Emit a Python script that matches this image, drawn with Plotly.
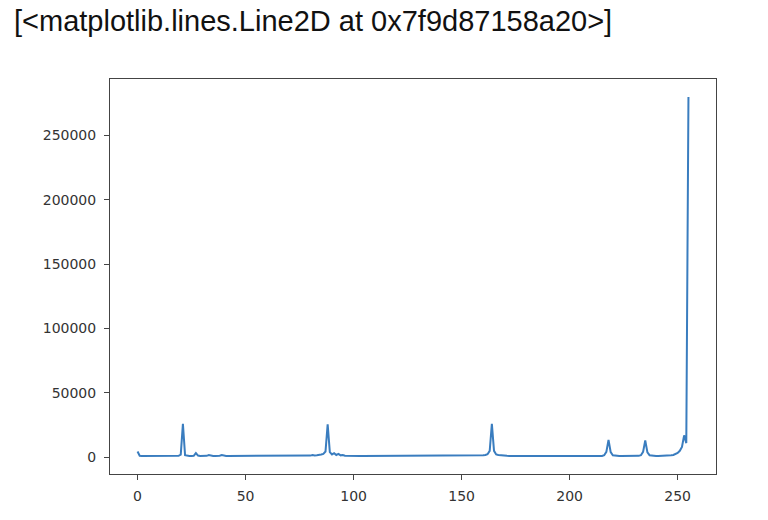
import plotly.graph_objects as go

# pixel-intensity bins 0..255
bins = list(range(256))

# histogram counts, 16 bins per row
counts = [
    # 0-15
    4500, 1200, 1000, 1000, 950, 1000, 1000, 950, 1000, 1000, 1000, 950, 1000, 1000, 1000, 1000,
    # 16-31
    1000, 1000, 1000, 1100, 2000, 26000, 1600, 1000, 1000, 1000, 1100, 3300, 1300, 1000, 1000, 1000,
    # 32-47
    1100, 1700, 1100, 1000, 1000, 1000, 1200, 1700, 1100, 1000, 1000, 1000, 1100, 1500, 1100, 1000,
    # 48-63
    1000, 1100, 1400, 1000, 1000, 1000, 1000, 1100, 1300, 1000, 1000, 1000, 1000, 1000, 1100, 1000,
    # 64-79
    1000, 1000, 1000, 1000, 1000, 1000, 1000, 1000, 1000, 1000, 1000, 1100, 1100, 1200, 1200, 1300,
    # 80-95
    1300, 1800, 1400, 1600, 1700, 2200, 2600, 4500, 25500, 4000, 2200, 3200, 1800, 2600, 1500, 1800,
    # 96-111
    1200, 1100, 1400, 1100, 1000, 1000, 1000, 1000, 1000, 1000, 1000, 1000, 1000, 1000, 1000, 1000,
    # 112-127
    1000, 1000, 1000, 1000, 1000, 1000, 1000, 1000, 1000, 1000, 1000, 1000, 1000, 1000, 1000, 1000,
    # 128-143
    1000, 1000, 1000, 1000, 1000, 1000, 1000, 1000, 1000, 1000, 1000, 1000, 1000, 1000, 1000, 1000,
    # 144-159
    1000, 1000, 1000, 1000, 1000, 1000, 1000, 1000, 1000, 1000, 1000, 1100, 1100, 1200, 1300, 1400,
    # 160-175
    1500, 1800, 2400, 5000, 26000, 5000, 2200, 1800, 1500, 1300, 1200, 1100, 1000, 1000, 1000, 1000,
    # 176-191
    1000, 1000, 1000, 1000, 1000, 1000, 1000, 1100, 1500, 1100, 1000, 1000, 1000, 1000, 1000, 1000,
    # 192-207
    1000, 1000, 1000, 1000, 1400, 1100, 1000, 1000, 1000, 1000, 1000, 1000, 1000, 1000, 1000, 1000,
    # 208-223
    1000, 1000, 1000, 1000, 1000, 1000, 1000, 1000, 1600, 4200, 13500, 4000, 1600, 1200, 1100, 1000,
    # 224-239
    1000, 1000, 1000, 1000, 1000, 1000, 1000, 1000, 1100, 1600, 4200, 13000, 3800, 1600, 1200, 1100,
    # 240-255
    1000, 1000, 1000, 1100, 1100, 1200, 1300, 1500, 1800, 2400, 3400, 5000, 8000, 17000, 11000, 280000,
]
x_ticks = [0, 50, 100, 150, 200, 250]
y_ticks = [0, 50000, 100000, 150000, 200000, 250000]
title_text = "[<matplotlib.lines.Line2D at 0x7f9d87158a20>]"

xmin, xmax = min(bins), max(bins)
ymin, ymax = min(counts), max(counts)
xpad = 0.05 * (xmax - xmin)
ypad = 0.05 * (ymax - ymin)

fig = go.Figure()
fig.add_trace(go.Scatter(
    x=bins, y=counts, mode="lines",
    line=dict(color="#3a7dbf", width=2),
    hoverinfo="skip",
))

axis_common = dict(
    showline=True, linecolor="#444", linewidth=1, mirror=True,
    ticks="outside", ticklen=5, tickcolor="#444", tickwidth=1,
    showgrid=False, zeroline=False,
    tickfont=dict(family="DejaVu Sans", size=14, color="#333"),
)

fig.update_layout(
    width=768, height=520,
    paper_bgcolor="white", plot_bgcolor="white",
    margin=dict(l=110, r=52, t=79, b=46),
    showlegend=False,
    hovermode=False,
    title=dict(
        text=title_text, xref="container", yref="container",
        x=14 / 768, xanchor="left", y=1 - 21 / 520, yanchor="middle",
        font=dict(family="Liberation Sans", size=29, color="#111"),
    ),
    xaxis=dict(range=[xmin - xpad, xmax + xpad], tickvals=x_ticks,
               ticktext=[str(v) for v in x_ticks], ticklabelstandoff=4, **axis_common),
    yaxis=dict(range=[ymin - ypad, ymax + ypad], tickvals=y_ticks,
               ticktext=[str(v) for v in y_ticks], ticklabelstandoff=5, **axis_common),
)

fig.write_html("out.html", config={"displayModeBar": False},
               post_script="document.body.style.margin='0px';")
